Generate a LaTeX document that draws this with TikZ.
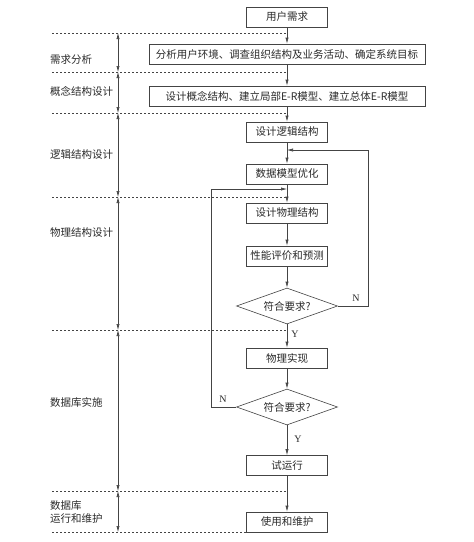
\documentclass[tikz,border=0pt]{standalone}
\usepackage{fontspec}
\setmainfont{Noto Sans CJK SC}
\newfontfamily\latf{Liberation Serif}
\usetikzlibrary{arrows.meta,shapes.geometric}
\definecolor{linec}{HTML}{444444}
\definecolor{txtc}{HTML}{2A2A2A}
\begin{document}
\begin{tikzpicture}[x=1pt,y=-1pt,
  font=\fontsize{10.5}{13}\selectfont,
  box/.style={draw=linec, line width=0.6pt, minimum height=20pt, inner sep=0pt, text=txtc},
  sbox/.style={box, minimum width=81pt},
  wbox/.style={box, minimum width=276pt},
  dec/.style={draw=linec, line width=0.6pt, diamond, aspect=2.8, minimum width=101pt, minimum height=36pt, inner sep=0pt, text=txtc},
  flow/.style={draw=linec, line width=0.6pt, -{Latex[length=6pt,width=3.2pt]}},
  sepline/.style={draw=linec, line width=0.5pt, dash pattern=on 2pt off 2pt},
  span/.style={draw=linec, line width=0.6pt, {Latex[length=6pt,width=3.2pt]}-{Latex[length=6pt,width=3.2pt]}},
  lab/.style={anchor=west, text=txtc, inner sep=0pt, align=left},
  yn/.style={font=\latf\fontsize{10}{12}\selectfont, inner sep=0pt, text=txtc}
]
\fill[white] (0,0) rectangle (474,542);
\useasboundingbox (0,0) rectangle (474,542);

% main boxes
\node[sbox] (u1) at (287,17) {用户需求};
\node[wbox] (b2) at (287,54) {分析用户环境、调查组织结构及业务活动、确定系统目标};
\node[wbox] (b3) at (287,96) {设计概念结构、建立局部E-R模型、建立总体E-R模型};
\node[sbox] (b4) at (287,132) {设计逻辑结构};
\node[sbox] (b5) at (287,174) {数据模型优化};
\node[sbox] (b6) at (287,213) {设计物理结构};
\node[sbox] (b7) at (287,256) {性能评价和预测};
\node[dec] (d1) at (287,306) {符合要求?};
\node[sbox] (b8) at (287,358) {物理实现};
\node[dec] (d2) at (287,407) {符合要求?};
\node[sbox] (b9) at (287,465.5) {试运行};
\node[sbox] (b10) at (287,522) {使用和维护};

% separator lines
\coordinate (s1l) at (52,33);  \coordinate (s1r) at (287,33);
\coordinate (s2l) at (52,72);  \coordinate (s2r) at (287,72);
\coordinate (s3l) at (52,113); \coordinate (s3r) at (287,113);
\coordinate (s4l) at (52,197); \coordinate (s4r) at (287,197);
\coordinate (s5l) at (52,330); \coordinate (s5r) at (287,330);
\coordinate (s6l) at (52,491); \coordinate (s6r) at (287,491);
\coordinate (s7l) at (52,532); \coordinate (s7r) at (246.5,532);
\foreach \i in {1,...,7} {\draw[sepline] (s\i l) -- (s\i r);}

% phase spans
\coordinate (a1) at (118,33);
\coordinate (a2) at (118,72);
\coordinate (a3) at (118,113);
\coordinate (a4) at (118,197);
\coordinate (a5) at (118,330);
\coordinate (a6) at (118,491);
\coordinate (a7) at (118,532);
\draw[span] (a1) -- (a2);
\draw[span] (a2) -- (a3);
\draw[span] (a3) -- (a4);
\draw[span] (a4) -- (a5);
\draw[span] (a5) -- (a6);
\draw[span] (a6) -- (a7);

% phase labels
\node[lab] (l1) at (50,59.5) {需求分析};
\node[lab] (l2) at (50,91) {概念结构设计};
\node[lab] (l3) at (50,155) {逻辑结构设计};
\node[lab] (l4) at (50,233) {物理结构设计};
\node[lab] (l5) at (50,402) {数据库实施};
\node[lab] (l6) at (50,512.5) {数据库\\运行和维护};

% main flow
\draw[flow] (u1) -- (b2);
\draw[flow] (b2) -- (b3);
\draw[flow] (b3) -- (b4);
\draw[flow] (b4) -- (b5);
\draw[flow] (b5) -- (b6);
\draw[flow] (b6) -- (b7);
\draw[flow] (b7) -- (d1);
\draw[flow] (d1) -- (b8);
\draw[flow] (b8) -- (d2);
\draw[flow] (d2) -- (b9);
\draw[flow] (b9) -- (b10);

% feedback loops
\coordinate (f1) at (287,150);
\coordinate (f2) at (287,189);
\draw[flow] (d1.east) -- ++(30,0) |- (f1);
\draw[flow] (d2.west) -- ++(-24.5,0) |- (f2);

% decision labels
\node[yn] (n1) at (356,298) {N};
\node[yn] (n2) at (223,399) {N};
\node[yn] (y1) at (295,334) {Y};
\node[yn] (y2) at (298,439) {Y};
\end{tikzpicture}
\end{document}
